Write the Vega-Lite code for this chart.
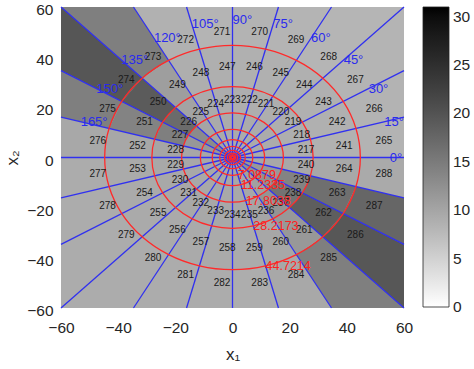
{
  "$schema": "https://vega.github.io/schema/vega-lite/v6.json",
  "autosize": "none",
  "width": 343,
  "height": 301,
  "padding": {"left": 61, "top": 7, "right": 70, "bottom": 61},
  "background": "white",
  "config": {
    "font": "Liberation Sans",
    "view": {"stroke": null, "fill": "#b4b4b4"},
    "axis": {"domain": false, "ticks": false, "grid": false, "labelFont": "Liberation Sans", "labelFontSize": 15.5, "labelColor": "#262626", "titleFont": "Liberation Sans", "titleFontSize": 17, "titleFontWeight": "normal", "titleColor": "#262626", "labelFlush": false}
  },
  "datasets": {
    "nodes": [
      {"id":"c","r":-1,"a":0,"x":0,"y":0},
      {"id":"0_0","r":0,"a":0,"x":60,"y":0},{"id":"0_1","r":0,"a":1,"x":60,"y":16.077},{"id":"0_2","r":0,"a":2,"x":60,"y":34.641},{"id":"0_3","r":0,"a":3,"x":60,"y":60},{"id":"0_4","r":0,"a":4,"x":34.641,"y":60},{"id":"0_5","r":0,"a":5,"x":16.077,"y":60},{"id":"0_6","r":0,"a":6,"x":0,"y":60},{"id":"0_7","r":0,"a":7,"x":-16.077,"y":60},{"id":"0_8","r":0,"a":8,"x":-34.641,"y":60},{"id":"0_9","r":0,"a":9,"x":-60,"y":60},{"id":"0_10","r":0,"a":10,"x":-60,"y":34.641},{"id":"0_11","r":0,"a":11,"x":-60,"y":16.077},{"id":"0_12","r":0,"a":12,"x":-60,"y":0},{"id":"0_13","r":0,"a":13,"x":-60,"y":-16.077},{"id":"0_14","r":0,"a":14,"x":-60,"y":-34.641},{"id":"0_15","r":0,"a":15,"x":-60,"y":-60},{"id":"0_16","r":0,"a":16,"x":-34.641,"y":-60},{"id":"0_17","r":0,"a":17,"x":-16.077,"y":-60},{"id":"0_18","r":0,"a":18,"x":0,"y":-60},{"id":"0_19","r":0,"a":19,"x":16.077,"y":-60},{"id":"0_20","r":0,"a":20,"x":34.641,"y":-60},{"id":"0_21","r":0,"a":21,"x":60,"y":-60},{"id":"0_22","r":0,"a":22,"x":60,"y":-34.641},{"id":"0_23","r":0,"a":23,"x":60,"y":-16.077},
      {"id":"1_0","r":1,"a":0,"x":44.7214,"y":0},{"id":"1_1","r":1,"a":1,"x":43.1976,"y":11.5747},{"id":"1_2","r":1,"a":2,"x":38.7299,"y":22.3607},{"id":"1_3","r":1,"a":3,"x":31.6228,"y":31.6228},{"id":"1_4","r":1,"a":4,"x":22.3607,"y":38.7299},{"id":"1_5","r":1,"a":5,"x":11.5747,"y":43.1976},{"id":"1_6","r":1,"a":6,"x":0,"y":44.7214},{"id":"1_7","r":1,"a":7,"x":-11.5747,"y":43.1976},{"id":"1_8","r":1,"a":8,"x":-22.3607,"y":38.7299},{"id":"1_9","r":1,"a":9,"x":-31.6228,"y":31.6228},{"id":"1_10","r":1,"a":10,"x":-38.7299,"y":22.3607},{"id":"1_11","r":1,"a":11,"x":-43.1976,"y":11.5747},{"id":"1_12","r":1,"a":12,"x":-44.7214,"y":0},{"id":"1_13","r":1,"a":13,"x":-43.1976,"y":-11.5747},{"id":"1_14","r":1,"a":14,"x":-38.7299,"y":-22.3607},{"id":"1_15","r":1,"a":15,"x":-31.6228,"y":-31.6228},{"id":"1_16","r":1,"a":16,"x":-22.3607,"y":-38.7299},{"id":"1_17","r":1,"a":17,"x":-11.5747,"y":-43.1976},{"id":"1_18","r":1,"a":18,"x":0,"y":-44.7214},{"id":"1_19","r":1,"a":19,"x":11.5747,"y":-43.1976},{"id":"1_20","r":1,"a":20,"x":22.3607,"y":-38.7299},{"id":"1_21","r":1,"a":21,"x":31.6228,"y":-31.6228},{"id":"1_22","r":1,"a":22,"x":38.7299,"y":-22.3607},{"id":"1_23","r":1,"a":23,"x":43.1976,"y":-11.5747},
      {"id":"2_0","r":2,"a":0,"x":28.2173,"y":0},{"id":"2_1","r":2,"a":1,"x":27.2558,"y":7.3032},{"id":"2_2","r":2,"a":2,"x":24.4369,"y":14.1087},{"id":"2_3","r":2,"a":3,"x":19.9527,"y":19.9527},{"id":"2_4","r":2,"a":4,"x":14.1087,"y":24.4369},{"id":"2_5","r":2,"a":5,"x":7.3032,"y":27.2558},{"id":"2_6","r":2,"a":6,"x":0,"y":28.2173},{"id":"2_7","r":2,"a":7,"x":-7.3032,"y":27.2558},{"id":"2_8","r":2,"a":8,"x":-14.1087,"y":24.4369},{"id":"2_9","r":2,"a":9,"x":-19.9527,"y":19.9527},{"id":"2_10","r":2,"a":10,"x":-24.4369,"y":14.1087},{"id":"2_11","r":2,"a":11,"x":-27.2558,"y":7.3032},{"id":"2_12","r":2,"a":12,"x":-28.2173,"y":0},{"id":"2_13","r":2,"a":13,"x":-27.2558,"y":-7.3032},{"id":"2_14","r":2,"a":14,"x":-24.4369,"y":-14.1087},{"id":"2_15","r":2,"a":15,"x":-19.9527,"y":-19.9527},{"id":"2_16","r":2,"a":16,"x":-14.1087,"y":-24.4369},{"id":"2_17","r":2,"a":17,"x":-7.3032,"y":-27.2558},{"id":"2_18","r":2,"a":18,"x":0,"y":-28.2173},{"id":"2_19","r":2,"a":19,"x":7.3032,"y":-27.2558},{"id":"2_20","r":2,"a":20,"x":14.1087,"y":-24.4369},{"id":"2_21","r":2,"a":21,"x":19.9527,"y":-19.9527},{"id":"2_22","r":2,"a":22,"x":24.4369,"y":-14.1087},{"id":"2_23","r":2,"a":23,"x":27.2558,"y":-7.3032},
      {"id":"3_0","r":3,"a":0,"x":17.8038,"y":0},{"id":"3_1","r":3,"a":1,"x":17.1971,"y":4.608},{"id":"3_2","r":3,"a":2,"x":15.4185,"y":8.9019},{"id":"3_3","r":3,"a":3,"x":12.5892,"y":12.5892},{"id":"3_4","r":3,"a":4,"x":8.9019,"y":15.4185},{"id":"3_5","r":3,"a":5,"x":4.608,"y":17.1971},{"id":"3_6","r":3,"a":6,"x":0,"y":17.8038},{"id":"3_7","r":3,"a":7,"x":-4.608,"y":17.1971},{"id":"3_8","r":3,"a":8,"x":-8.9019,"y":15.4185},{"id":"3_9","r":3,"a":9,"x":-12.5892,"y":12.5892},{"id":"3_10","r":3,"a":10,"x":-15.4185,"y":8.9019},{"id":"3_11","r":3,"a":11,"x":-17.1971,"y":4.608},{"id":"3_12","r":3,"a":12,"x":-17.8038,"y":0},{"id":"3_13","r":3,"a":13,"x":-17.1971,"y":-4.608},{"id":"3_14","r":3,"a":14,"x":-15.4185,"y":-8.9019},{"id":"3_15","r":3,"a":15,"x":-12.5892,"y":-12.5892},{"id":"3_16","r":3,"a":16,"x":-8.9019,"y":-15.4185},{"id":"3_17","r":3,"a":17,"x":-4.608,"y":-17.1971},{"id":"3_18","r":3,"a":18,"x":0,"y":-17.8038},{"id":"3_19","r":3,"a":19,"x":4.608,"y":-17.1971},{"id":"3_20","r":3,"a":20,"x":8.9019,"y":-15.4185},{"id":"3_21","r":3,"a":21,"x":12.5892,"y":-12.5892},{"id":"3_22","r":3,"a":22,"x":15.4185,"y":-8.9019},{"id":"3_23","r":3,"a":23,"x":17.1971,"y":-4.608},
      {"r":4,"a":0,"x":11.2335,"y":0},{"r":4,"a":1,"x":10.8507,"y":2.9074},{"r":4,"a":2,"x":9.7285,"y":5.6167},{"r":4,"a":3,"x":7.9433,"y":7.9433},{"r":4,"a":4,"x":5.6167,"y":9.7285},{"r":4,"a":5,"x":2.9074,"y":10.8507},{"r":4,"a":6,"x":0,"y":11.2335},{"r":4,"a":7,"x":-2.9074,"y":10.8507},{"r":4,"a":8,"x":-5.6167,"y":9.7285},{"r":4,"a":9,"x":-7.9433,"y":7.9433},{"r":4,"a":10,"x":-9.7285,"y":5.6167},{"r":4,"a":11,"x":-10.8507,"y":2.9074},{"r":4,"a":12,"x":-11.2335,"y":0},{"r":4,"a":13,"x":-10.8507,"y":-2.9074},{"r":4,"a":14,"x":-9.7285,"y":-5.6167},{"r":4,"a":15,"x":-7.9433,"y":-7.9433},{"r":4,"a":16,"x":-5.6167,"y":-9.7285},{"r":4,"a":17,"x":-2.9074,"y":-10.8507},{"r":4,"a":18,"x":0,"y":-11.2335},{"r":4,"a":19,"x":2.9074,"y":-10.8507},{"r":4,"a":20,"x":5.6167,"y":-9.7285},{"r":4,"a":21,"x":7.9433,"y":-7.9433},{"r":4,"a":22,"x":9.7285,"y":-5.6167},{"r":4,"a":23,"x":10.8507,"y":-2.9074},
      {"r":5,"a":0,"x":7.0879,"y":0},{"r":5,"a":1,"x":6.8464,"y":1.8345},{"r":5,"a":2,"x":6.1383,"y":3.5439},{"r":5,"a":3,"x":5.0119,"y":5.0119},{"r":5,"a":4,"x":3.5439,"y":6.1383},{"r":5,"a":5,"x":1.8345,"y":6.8464},{"r":5,"a":6,"x":0,"y":7.0879},{"r":5,"a":7,"x":-1.8345,"y":6.8464},{"r":5,"a":8,"x":-3.5439,"y":6.1383},{"r":5,"a":9,"x":-5.0119,"y":5.0119},{"r":5,"a":10,"x":-6.1383,"y":3.5439},{"r":5,"a":11,"x":-6.8464,"y":1.8345},{"r":5,"a":12,"x":-7.0879,"y":0},{"r":5,"a":13,"x":-6.8464,"y":-1.8345},{"r":5,"a":14,"x":-6.1383,"y":-3.5439},{"r":5,"a":15,"x":-5.0119,"y":-5.0119},{"r":5,"a":16,"x":-3.5439,"y":-6.1383},{"r":5,"a":17,"x":-1.8345,"y":-6.8464},{"r":5,"a":18,"x":0,"y":-7.0879},{"r":5,"a":19,"x":1.8345,"y":-6.8464},{"r":5,"a":20,"x":3.5439,"y":-6.1383},{"r":5,"a":21,"x":5.0119,"y":-5.0119},{"r":5,"a":22,"x":6.1383,"y":-3.5439},{"r":5,"a":23,"x":6.8464,"y":-1.8345},
      {"r":6,"a":0,"x":4.4721,"y":0},{"r":6,"a":2,"x":3.873,"y":2.2361},{"r":6,"a":4,"x":2.2361,"y":3.873},{"r":6,"a":6,"x":0,"y":4.4721},{"r":6,"a":8,"x":-2.2361,"y":3.873},{"r":6,"a":10,"x":-3.873,"y":2.2361},{"r":6,"a":12,"x":-4.4721,"y":0},{"r":6,"a":14,"x":-3.873,"y":-2.2361},{"r":6,"a":16,"x":-2.2361,"y":-3.873},{"r":6,"a":18,"x":0,"y":-4.4721},{"r":6,"a":20,"x":2.2361,"y":-3.873},{"r":6,"a":22,"x":3.873,"y":-2.2361},
      {"r":7,"a":0,"x":2.8217,"y":0},{"r":7,"a":2,"x":2.4437,"y":1.4109},{"r":7,"a":4,"x":1.4109,"y":2.4437},{"r":7,"a":6,"x":0,"y":2.8217},{"r":7,"a":8,"x":-1.4109,"y":2.4437},{"r":7,"a":10,"x":-2.4437,"y":1.4109},{"r":7,"a":12,"x":-2.8217,"y":0},{"r":7,"a":14,"x":-2.4437,"y":-1.4109},{"r":7,"a":16,"x":-1.4109,"y":-2.4437},{"r":7,"a":18,"x":0,"y":-2.8217},{"r":7,"a":20,"x":1.4109,"y":-2.4437},{"r":7,"a":22,"x":2.4437,"y":-1.4109},
      {"r":8,"a":0,"x":1.7804,"y":0},{"r":8,"a":2,"x":1.5419,"y":0.8902},{"r":8,"a":4,"x":0.8902,"y":1.5419},{"r":8,"a":6,"x":0,"y":1.7804},{"r":8,"a":8,"x":-0.8902,"y":1.5419},{"r":8,"a":10,"x":-1.5419,"y":0.8902},{"r":8,"a":12,"x":-1.7804,"y":0},{"r":8,"a":14,"x":-1.5419,"y":-0.8902},{"r":8,"a":16,"x":-0.8902,"y":-1.5419},{"r":8,"a":18,"x":0,"y":-1.7804},{"r":8,"a":20,"x":0.8902,"y":-1.5419},{"r":8,"a":22,"x":1.5419,"y":-0.8902},
      {"r":9,"a":0,"x":1.1233,"y":0},{"r":9,"a":2,"x":0.9729,"y":0.5617},{"r":9,"a":4,"x":0.5617,"y":0.9729},{"r":9,"a":6,"x":0,"y":1.1233},{"r":9,"a":8,"x":-0.5617,"y":0.9729},{"r":9,"a":10,"x":-0.9729,"y":0.5617},{"r":9,"a":12,"x":-1.1233,"y":0},{"r":9,"a":14,"x":-0.9729,"y":-0.5617},{"r":9,"a":16,"x":-0.5617,"y":-0.9729},{"r":9,"a":18,"x":0,"y":-1.1233},{"r":9,"a":20,"x":0.5617,"y":-0.9729},{"r":9,"a":22,"x":0.9729,"y":-0.5617},
      {"r":10,"a":0,"x":0.7088,"y":0},{"r":10,"a":2,"x":0.6138,"y":0.3544},{"r":10,"a":4,"x":0.3544,"y":0.6138},{"r":10,"a":6,"x":0,"y":0.7088},{"r":10,"a":8,"x":-0.3544,"y":0.6138},{"r":10,"a":10,"x":-0.6138,"y":0.3544},{"r":10,"a":12,"x":-0.7088,"y":0},{"r":10,"a":14,"x":-0.6138,"y":-0.3544},{"r":10,"a":16,"x":-0.3544,"y":-0.6138},{"r":10,"a":18,"x":0,"y":-0.7088},{"r":10,"a":20,"x":0.3544,"y":-0.6138},{"r":10,"a":22,"x":0.6138,"y":-0.3544},
      {"r":11,"a":0,"x":0.4472,"y":0},{"r":11,"a":2,"x":0.3873,"y":0.2236},{"r":11,"a":4,"x":0.2236,"y":0.3873},{"r":11,"a":6,"x":0,"y":0.4472},{"r":11,"a":8,"x":-0.2236,"y":0.3873},{"r":11,"a":10,"x":-0.3873,"y":0.2236},{"r":11,"a":12,"x":-0.4472,"y":0},{"r":11,"a":14,"x":-0.3873,"y":-0.2236},{"r":11,"a":16,"x":-0.2236,"y":-0.3873},{"r":11,"a":18,"x":0,"y":-0.4472},{"r":11,"a":20,"x":0.2236,"y":-0.3873},{"r":11,"a":22,"x":0.3873,"y":-0.2236}
    ],
    "cells": [
      {"id":265,"v":8.4,"p":["1_0","0_0","0_1","1_1"],"k":[0,1,2,3],"lx":50.068,"ly":6.592},
      {"id":266,"v":8.4,"p":["1_1","0_1","0_2","1_2"],"k":[0,1,2,3],"lx":46.656,"ly":19.325},
      {"id":267,"v":8.3,"p":["1_2","0_2","0_3","1_3"],"k":[0,1,2,3],"lx":40.064,"ly":30.742},
      {"id":268,"v":8.2,"p":["1_3","0_3","0_4","1_4"],"k":[0,1,2,3],"lx":30.742,"ly":40.064},
      {"id":269,"v":8.3,"p":["1_4","0_4","0_5","1_5"],"k":[0,1,2,3],"lx":19.325,"ly":46.656},
      {"id":270,"v":8.4,"p":["1_5","0_5","0_6","1_6"],"k":[0,1,2,3],"lx":6.592,"ly":50.068},
      {"id":271,"v":8.3,"p":["1_6","0_6","0_7","1_7"],"k":[0,1,2,3],"lx":-6.592,"ly":50.068},
      {"id":272,"v":8.6,"p":["1_7","0_7","0_8","1_8"],"k":[0,1,2,3],"lx":-19.325,"ly":46.656},
      {"id":273,"v":14.5,"p":["1_8","0_8","0_9","1_9"],"k":[0,1,2,3],"lx":-30.742,"ly":40.064},
      {"id":274,"v":19.6,"p":["1_9","0_9","0_10","1_10"],"k":[0,1,2,3],"lx":-40.064,"ly":30.742},
      {"id":275,"v":14.5,"p":["1_10","0_10","0_11","1_11"],"k":[0,1,2,3],"lx":-46.656,"ly":19.325},
      {"id":276,"v":9.6,"p":["1_11","0_11","0_12","1_12"],"k":[0,1,2,3],"lx":-50.068,"ly":6.592},
      {"id":277,"v":9.2,"p":["1_12","0_12","0_13","1_13"],"k":[0,1,2,3],"lx":-50.068,"ly":-6.592},
      {"id":278,"v":9.2,"p":["1_13","0_13","0_14","1_14"],"k":[0,1,2,3],"lx":-46.656,"ly":-19.325},
      {"id":279,"v":9.2,"p":["1_14","0_14","0_15","1_15"],"k":[0,1,2,3],"lx":-40.064,"ly":-30.742},
      {"id":280,"v":9.2,"p":["1_15","0_15","0_16","1_16"],"k":[0,1,2,3],"lx":-30.742,"ly":-40.064},
      {"id":281,"v":9.2,"p":["1_16","0_16","0_17","1_17"],"k":[0,1,2,3],"lx":-19.325,"ly":-46.656},
      {"id":282,"v":9.2,"p":["1_17","0_17","0_18","1_18"],"k":[0,1,2,3],"lx":-6.592,"ly":-50.068},
      {"id":283,"v":9.1,"p":["1_18","0_18","0_19","1_19"],"k":[0,1,2,3],"lx":6.592,"ly":-50.068},
      {"id":284,"v":9.6,"p":["1_19","0_19","0_20","1_20"],"k":[0,1,2,3],"lx":19.325,"ly":-46.656},
      {"id":285,"v":14.5,"p":["1_20","0_20","0_21","1_21"],"k":[0,1,2,3],"lx":30.742,"ly":-40.064},
      {"id":286,"v":19.5,"p":["1_21","0_21","0_22","1_22"],"k":[0,1,2,3],"lx":40.064,"ly":-30.742},
      {"id":287,"v":17.6,"p":["1_22","0_22","0_23","1_23"],"k":[0,1,2,3],"lx":46.656,"ly":-19.325},
      {"id":288,"v":9.4,"p":["1_23","0_23","0_0","1_0"],"k":[0,1,2,3],"lx":50.068,"ly":-6.592},
      {"id":241,"v":8.6,"p":["2_0","1_0","1_1","2_1"],"k":[0,1,2,3],"lx":36.158,"ly":4.76},
      {"id":242,"v":8.7,"p":["2_1","1_1","1_2","2_2"],"k":[0,1,2,3],"lx":33.694,"ly":13.956},
      {"id":243,"v":8.7,"p":["2_2","1_2","1_3","2_3"],"k":[0,1,2,3],"lx":28.933,"ly":22.202},
      {"id":244,"v":8.7,"p":["2_3","1_3","1_4","2_4"],"k":[0,1,2,3],"lx":22.202,"ly":28.933},
      {"id":245,"v":8.7,"p":["2_4","1_4","1_5","2_5"],"k":[0,1,2,3],"lx":13.956,"ly":33.694},
      {"id":246,"v":8.7,"p":["2_5","1_5","1_6","2_6"],"k":[0,1,2,3],"lx":4.76,"ly":36.158},
      {"id":247,"v":8.8,"p":["2_6","1_6","1_7","2_7"],"k":[0,1,2,3],"lx":-4.76,"ly":36.158},
      {"id":248,"v":9.0,"p":["2_7","1_7","1_8","2_8"],"k":[0,1,2,3],"lx":-13.956,"ly":33.694},
      {"id":249,"v":10.8,"p":["2_8","1_8","1_9","2_9"],"k":[0,1,2,3],"lx":-22.202,"ly":28.933},
      {"id":250,"v":19.0,"p":["2_9","1_9","1_10","2_10"],"k":[0,1,2,3],"lx":-28.933,"ly":22.202},
      {"id":251,"v":14.0,"p":["2_10","1_10","1_11","2_11"],"k":[0,1,2,3],"lx":-33.694,"ly":13.956},
      {"id":252,"v":9.8,"p":["2_11","1_11","1_12","2_12"],"k":[0,1,2,3],"lx":-36.158,"ly":4.76},
      {"id":253,"v":9.4,"p":["2_12","1_12","1_13","2_13"],"k":[0,1,2,3],"lx":-36.158,"ly":-4.76},
      {"id":254,"v":9.4,"p":["2_13","1_13","1_14","2_14"],"k":[0,1,2,3],"lx":-33.694,"ly":-13.956},
      {"id":255,"v":9.4,"p":["2_14","1_14","1_15","2_15"],"k":[0,1,2,3],"lx":-28.933,"ly":-22.202},
      {"id":256,"v":9.4,"p":["2_15","1_15","1_16","2_16"],"k":[0,1,2,3],"lx":-22.202,"ly":-28.933},
      {"id":257,"v":9.4,"p":["2_16","1_16","1_17","2_17"],"k":[0,1,2,3],"lx":-13.956,"ly":-33.694},
      {"id":258,"v":9.4,"p":["2_17","1_17","1_18","2_18"],"k":[0,1,2,3],"lx":-4.76,"ly":-36.158},
      {"id":259,"v":9.3,"p":["2_18","1_18","1_19","2_19"],"k":[0,1,2,3],"lx":4.76,"ly":-36.158},
      {"id":260,"v":9.8,"p":["2_19","1_19","1_20","2_20"],"k":[0,1,2,3],"lx":13.956,"ly":-33.694},
      {"id":261,"v":11.5,"p":["2_20","1_20","1_21","2_21"],"k":[0,1,2,3],"lx":22.202,"ly":-28.933},
      {"id":262,"v":18.6,"p":["2_21","1_21","1_22","2_22"],"k":[0,1,2,3],"lx":28.933,"ly":-22.202},
      {"id":263,"v":16.5,"p":["2_22","1_22","1_23","2_23"],"k":[0,1,2,3],"lx":33.694,"ly":-13.956},
      {"id":264,"v":9.6,"p":["2_23","1_23","1_0","2_0"],"k":[0,1,2,3],"lx":36.158,"ly":-4.76},
      {"id":217,"v":9.0,"p":["3_0","2_0","2_1","3_1"],"k":[0,1,2,3],"lx":22.813,"ly":3.003},
      {"id":218,"v":9.0,"p":["3_1","2_1","2_2","3_2"],"k":[0,1,2,3],"lx":21.259,"ly":8.806},
      {"id":219,"v":9.0,"p":["3_2","2_2","2_3","3_3"],"k":[0,1,2,3],"lx":18.255,"ly":14.008},
      {"id":220,"v":9.0,"p":["3_3","2_3","2_4","3_4"],"k":[0,1,2,3],"lx":14.008,"ly":18.255},
      {"id":221,"v":9.0,"p":["3_4","2_4","2_5","3_5"],"k":[0,1,2,3],"lx":8.806,"ly":21.259},
      {"id":222,"v":9.0,"p":["3_5","2_5","2_6","3_6"],"k":[0,1,2,3],"lx":3.003,"ly":22.813},
      {"id":223,"v":9.2,"p":["3_6","2_6","2_7","3_7"],"k":[0,1,2,3],"lx":-3.003,"ly":22.813},
      {"id":224,"v":9.3,"p":["3_7","2_7","2_8","3_8"],"k":[0,1,2,3],"lx":-8.806,"ly":21.259},
      {"id":225,"v":10.2,"p":["3_8","2_8","2_9","3_9"],"k":[0,1,2,3],"lx":-14.008,"ly":18.255},
      {"id":226,"v":17.0,"p":["3_9","2_9","2_10","3_10"],"k":[0,1,2,3],"lx":-18.255,"ly":14.008},
      {"id":227,"v":14.5,"p":["3_10","2_10","2_11","3_11"],"k":[0,1,2,3],"lx":-21.259,"ly":8.806},
      {"id":228,"v":10.0,"p":["3_11","2_11","2_12","3_12"],"k":[0,1,2,3],"lx":-22.813,"ly":3.003},
      {"id":229,"v":9.6,"p":["3_12","2_12","2_13","3_13"],"k":[0,1,2,3],"lx":-22.813,"ly":-3.003},
      {"id":230,"v":9.6,"p":["3_13","2_13","2_14","3_14"],"k":[0,1,2,3],"lx":-21.259,"ly":-8.806},
      {"id":231,"v":9.6,"p":["3_14","2_14","2_15","3_15"],"k":[0,1,2,3],"lx":-18.255,"ly":-14.008},
      {"id":232,"v":9.6,"p":["3_15","2_15","2_16","3_16"],"k":[0,1,2,3],"lx":-14.008,"ly":-18.255},
      {"id":233,"v":9.6,"p":["3_16","2_16","2_17","3_17"],"k":[0,1,2,3],"lx":-8.806,"ly":-21.259},
      {"id":234,"v":9.6,"p":["3_17","2_17","2_18","3_18"],"k":[0,1,2,3],"lx":-3.003,"ly":-22.813},
      {"id":235,"v":9.6,"p":["3_18","2_18","2_19","3_19"],"k":[0,1,2,3],"lx":3.003,"ly":-22.813},
      {"id":236,"v":10.0,"p":["3_19","2_19","2_20","3_20"],"k":[0,1,2,3],"lx":8.806,"ly":-21.259},
      {"id":237,"v":12.0,"p":["3_20","2_20","2_21","3_21"],"k":[0,1,2,3],"lx":14.008,"ly":-18.255},
      {"id":238,"v":16.0,"p":["3_21","2_21","2_22","3_22"],"k":[0,1,2,3],"lx":18.255,"ly":-14.008},
      {"id":239,"v":14.0,"p":["3_22","2_22","2_23","3_23"],"k":[0,1,2,3],"lx":21.259,"ly":-8.806},
      {"id":240,"v":9.6,"p":["3_23","2_23","2_0","3_0"],"k":[0,1,2,3],"lx":22.813,"ly":-3.003},
      {"id":"core-0","v":9.3,"p":["c","3_0","3_1"],"k":[0,1,2]},
      {"id":"core-1","v":9.3,"p":["c","3_1","3_2"],"k":[0,1,2]},
      {"id":"core-2","v":9.3,"p":["c","3_2","3_3"],"k":[0,1,2]},
      {"id":"core-3","v":9.3,"p":["c","3_3","3_4"],"k":[0,1,2]},
      {"id":"core-4","v":9.3,"p":["c","3_4","3_5"],"k":[0,1,2]},
      {"id":"core-5","v":9.3,"p":["c","3_5","3_6"],"k":[0,1,2]},
      {"id":"core-6","v":9.3,"p":["c","3_6","3_7"],"k":[0,1,2]},
      {"id":"core-7","v":9.4,"p":["c","3_7","3_8"],"k":[0,1,2]},
      {"id":"core-8","v":10.0,"p":["c","3_8","3_9"],"k":[0,1,2]},
      {"id":"core-9","v":13.0,"p":["c","3_9","3_10"],"k":[0,1,2]},
      {"id":"core-10","v":11.5,"p":["c","3_10","3_11"],"k":[0,1,2]},
      {"id":"core-11","v":9.8,"p":["c","3_11","3_12"],"k":[0,1,2]},
      {"id":"core-12","v":9.6,"p":["c","3_12","3_13"],"k":[0,1,2]},
      {"id":"core-13","v":9.6,"p":["c","3_13","3_14"],"k":[0,1,2]},
      {"id":"core-14","v":9.6,"p":["c","3_14","3_15"],"k":[0,1,2]},
      {"id":"core-15","v":9.6,"p":["c","3_15","3_16"],"k":[0,1,2]},
      {"id":"core-16","v":9.6,"p":["c","3_16","3_17"],"k":[0,1,2]},
      {"id":"core-17","v":9.6,"p":["c","3_17","3_18"],"k":[0,1,2]},
      {"id":"core-18","v":9.6,"p":["c","3_18","3_19"],"k":[0,1,2]},
      {"id":"core-19","v":9.8,"p":["c","3_19","3_20"],"k":[0,1,2]},
      {"id":"core-20","v":10.5,"p":["c","3_20","3_21"],"k":[0,1,2]},
      {"id":"core-21","v":12.5,"p":["c","3_21","3_22"],"k":[0,1,2]},
      {"id":"core-22","v":11.5,"p":["c","3_22","3_23"],"k":[0,1,2]},
      {"id":"core-23","v":9.6,"p":["c","3_23","3_0"],"k":[0,1,2]}
    ],
    "angles": [
      {"t":"0°","x":55,"y":0},{"t":"15°","x":53.126,"y":14.235},{"t":"30°","x":47.631,"y":27.5},{"t":"45°","x":38.891,"y":38.891},{"t":"60°","x":27.5,"y":47.631},{"t":"75°","x":14.235,"y":53.126},{"t":"90°","x":0,"y":55},{"t":"105°","x":-14.235,"y":53.126},{"t":"120°","x":-27.5,"y":47.631},{"t":"135°","x":-38.891,"y":38.891},{"t":"150°","x":-47.631,"y":27.5},{"t":"165°","x":-53.126,"y":14.235}
    ],
    "radii": [
      {"t":"44.7214","x":11.5747,"y":-43.1976},{"t":"28.2173","x":7.3032,"y":-27.2558},{"t":"17.8038","x":4.608,"y":-17.1971},{"t":"11.2335","x":2.9074,"y":-10.8507},{"t":"7.0879","x":1.8345,"y":-6.8464}
    ]
  },
  "layer": [
    {
      "data": {"name": "cells"},
      "transform": [
        {"flatten": ["p", "k"]},
        {"lookup": "p", "from": {"data": {"name": "nodes"}, "key": "id", "fields": ["x", "y"]}}
      ],
      "mark": {"type": "line", "interpolate": "linear-closed", "strokeWidth": 0, "stroke": null},
      "encoding": {
        "x": {"field": "x", "type": "quantitative", "scale": {"domain": [-60, 60], "nice": false, "zero": false}, "axis": {"values": [-60, -40, -20, 0, 20, 40, 60], "labelPadding": 12, "title": "x₁", "titleBaseline": "alphabetic", "titleY": 51}},
        "y": {"field": "y", "type": "quantitative", "scale": {"domain": [-60, 60], "nice": false, "zero": false}, "axis": {"values": [-60, -40, -20, 0, 20, 40, 60], "labelPadding": 8, "labelOffset": 2.5, "title": "x₂", "titleBaseline": "alphabetic", "titleX": -44}},
        "detail": {"field": "id", "type": "nominal"},
        "order": {"field": "k", "type": "quantitative"},
        "fill": {"field": "v", "type": "quantitative", "scale": {"domain": [-0.01, 31], "range": ["#ffffff", "#000000"]}, "legend": {"type": "gradient", "direction": "vertical", "title": null, "values": [0, 5, 10, 15, 20, 25, 30], "orient": "right", "offset": 19, "padding": 0, "gradientLength": 300, "gradientThickness": 26, "gradientStrokeColor": "#222222", "gradientStrokeWidth": 0.8, "labelFont": "Liberation Sans", "labelFontSize": 15.5, "labelOffset": 4, "labelColor": "#262626"}}
      }
    },
    {
      "data": {"name": "nodes"},
      "transform": [{"filter": "datum.r == 0"}],
      "mark": {"type": "rule", "color": "#3030f0", "strokeWidth": 1.3},
      "encoding": {
        "x": {"field": "x", "type": "quantitative"},
        "y": {"field": "y", "type": "quantitative"},
        "x2": {"datum": 0},
        "y2": {"datum": 0}
      }
    },
    {
      "data": {"name": "nodes"},
      "transform": [{"filter": "datum.r >= 1"}],
      "mark": {"type": "line", "interpolate": "cardinal-closed", "color": "#ff2a2a", "strokeWidth": 1.3},
      "encoding": {
        "x": {"field": "x", "type": "quantitative"},
        "y": {"field": "y", "type": "quantitative"},
        "detail": {"field": "r", "type": "nominal"},
        "order": {"field": "a", "type": "quantitative"}
      }
    },
    {
      "data": {"name": "cells"},
      "transform": [{"filter": {"field": "lx", "valid": true}}],
      "mark": {"type": "text", "align": "left", "baseline": "middle", "fontSize": 10, "font": "Liberation Sans", "color": "#1a1a1a"},
      "encoding": {
        "x": {"field": "lx", "type": "quantitative"},
        "y": {"field": "ly", "type": "quantitative"},
        "text": {"field": "id", "type": "nominal"}
      }
    },
    {
      "data": {"name": "angles"},
      "mark": {"type": "text", "align": "left", "baseline": "middle", "fontSize": 13, "font": "Liberation Sans", "color": "#2a2aee"},
      "encoding": {
        "x": {"field": "x", "type": "quantitative"},
        "y": {"field": "y", "type": "quantitative"},
        "text": {"field": "t", "type": "nominal"}
      }
    },
    {
      "data": {"name": "radii"},
      "mark": {"type": "text", "align": "left", "baseline": "middle", "fontSize": 12.5, "font": "Liberation Sans", "color": "#ff2020"},
      "encoding": {
        "x": {"field": "x", "type": "quantitative"},
        "y": {"field": "y", "type": "quantitative"},
        "text": {"field": "t", "type": "nominal"}
      }
    }
  ]
}
